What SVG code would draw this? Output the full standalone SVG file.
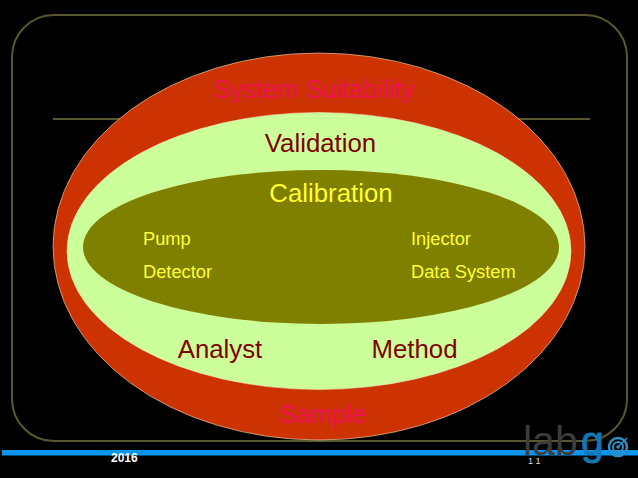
<svg xmlns="http://www.w3.org/2000/svg" width="638" height="478" viewBox="0 0 638 478">
<style>
text{font-family:"Liberation Sans",Arial,sans-serif}
.e{stroke:#f0e0c0;stroke-width:.6}
.m{font-size:25.800px;text-anchor:middle}
.s{font-size:18.300px;fill:#ffff33}
</style>
<rect width="638" height="478" fill="#000"/>
<g id="frame">
<rect x="12" y="15" width="615" height="426" rx="42" fill="none" stroke="#58582c" stroke-width="2"/>
<line x1="53" y1="119" x2="590" y2="119" stroke="#58582c" stroke-width="2"/>
<rect x="2" y="450" width="636" height="5.500" fill="#0a96f0"/>
</g>
<g id="system-suitability">
<ellipse class="e" cx="319" cy="246.500" rx="266" ry="193.500" fill="#cc3300"/>
<text x="314" y="98" text-anchor="middle" font-size="25.500" fill="#ee0f55">System Suitability</text>
</g>
<g id="sample"><text x="323" y="423" text-anchor="middle" font-size="25.500" fill="#ee0f55">Sample</text></g>
<g id="validation">
<ellipse class="e" cx="319" cy="251" rx="252" ry="138.500" fill="#ccff99"/>
<text class="m" x="320.500" y="152" fill="#800000">Validation</text>
</g>
<g id="analyst"><text class="m" x="220" y="358" fill="#800000">Analyst</text></g>
<g id="method"><text class="m" x="414.500" y="358" fill="#800000">Method</text></g>
<g id="calibration">
<ellipse cx="321" cy="247" rx="238" ry="77" fill="#808000"/>
<text class="m" x="331" y="202" fill="#ffff33">Calibration</text>
</g>
<g id="pump"><text class="s" x="143" y="245">Pump</text></g>
<g id="detector"><text class="s" x="143" y="278">Detector</text></g>
<g id="injector"><text class="s" x="411" y="245">Injector</text></g>
<g id="data-system"><text class="s" x="411" y="278">Data System</text></g>
<g id="footer">
<text x="111" y="462" font-size="12" font-weight="700" fill="#fff">2016</text>
<text x="528" y="464" font-size="9" fill="#dde">1 1</text>
</g>
<g id="logo">
<text x="523" y="455" font-size="41" fill="#3c3c3c">lab</text>
<text x="581" y="455" font-size="41" fill="#0f78b4" stroke="#0f78b4" stroke-width=".8">g</text>
<g fill="none" stroke="#2f8fc4">
<circle cx="618" cy="447" r="9" stroke-width="2.500"/>
<circle cx="618" cy="447" r="5" stroke-width="2"/>
<circle cx="618" cy="447" r="1.800" fill="#2f8fc4" stroke="none"/>
<line x1="618" y1="447" x2="627" y2="438" stroke-width="1.500"/>
</g>
</g>
</svg>
